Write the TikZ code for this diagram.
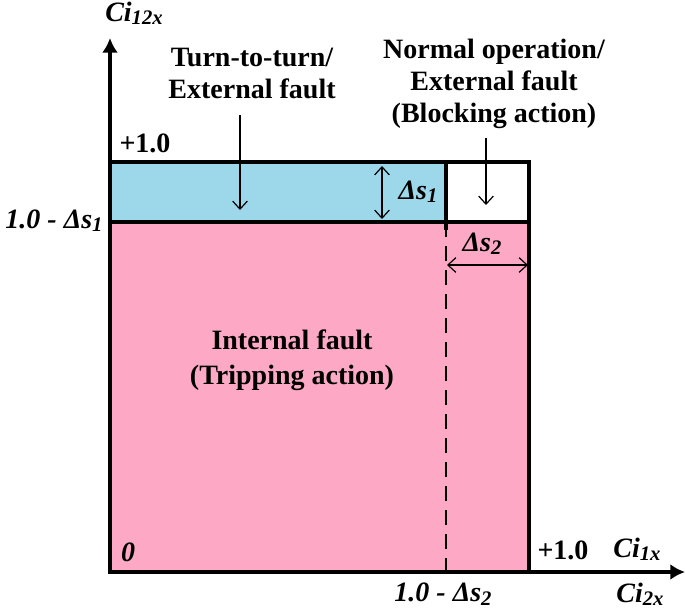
\documentclass[tikz,border=0pt]{standalone}
\usepackage{fontspec}
\setmainfont{Liberation Serif}
\usetikzlibrary{arrows.meta}
\definecolor{zoneblue}{HTML}{9DD8EA}
\definecolor{zonepink}{HTML}{FDA9C5}
\newcommand\lowsub[1]{\raisebox{-0.12em}{\fontsize{15.5}{15.5}\selectfont #1}}
\begin{document}
\begin{tikzpicture}[x=0.75pt,y=-0.75pt,
  lab/.style={font=\fontsize{21}{24}\selectfont\bfseries, align=center, inner sep=0pt},
  ilab/.style={font=\fontsize{21}{24}\selectfont\bfseries\itshape, inner sep=0pt},
  frame/.style={line width=3pt},
  axis/.style={line width=3pt, {Latex[length=11pt,width=12pt]}-{Latex[length=11pt,width=12pt]}},
  pointer/.style={line width=0.9pt, -{Straight Barb[length=6pt,width=11pt]}},
  dimline/.style={line width=0.9pt, {Straight Barb[length=6pt,width=11pt]}-{Straight Barb[length=6pt,width=11pt]}},
  guide/.style={line width=1.2pt, dash pattern=on 11pt off 7pt}
]
\useasboundingbox (0,0) rectangle (685,608);
% key points
\coordinate (O) at (110,572);
\coordinate (TL) at (110,162);
\coordinate (TR) at (529,162);
\coordinate (BR) at (529,572);
\coordinate (ML) at (110,222);
\coordinate (MR) at (529,222);
\coordinate (DT) at (446,162);
\coordinate (DM) at (446,222);
\coordinate (DS) at (446,230);
\coordinate (DB) at (446,578);
\coordinate (Ytip) at (110,38);
\coordinate (Xtip) at (685,572);
% regions
\fill[zonepink] (ML) rectangle (BR);
\fill[zoneblue] (TL) rectangle (DM);
\fill[white] (DT) rectangle (MR);
% dashed guide
\draw[guide] (DM) -- (DB);
% frame
\draw[frame] (TL) -- (TR) -- (BR);
\draw[frame] (ML) -- (MR);
\draw[frame] (DT) -- (DS);
% axes
\draw[axis] (Ytip) -- (O) -- (Xtip);
% texts
\node[ilab] (cy) at (134,13) {Ci\lowsub{12x}};
\node[lab] (ttt) at (252,73) {Turn-to-turn/\\External fault};
\node[lab] (nop) at (494,84) {Normal operation/\\External fault\\(Blocking action)};
\node[lab] (intf) at (292,360) {Internal fault\\[2pt](Tripping action)};
\node[lab] (p1y) at (145,143) {+1.0};
\node[ilab] (s1y) at (54,221) {1.0 - Δs\lowsub{1}};
\node[ilab] (zero) at (128,552) {0};
\node[lab] (p1x) at (563,550) {+1.0};
\node[ilab] (c1x) at (637,549) {Ci\lowsub{1x}};
\node[ilab] (c2x) at (640,594) {Ci\lowsub{2x}};
\node[ilab] (s2x) at (443,594) {1.0 - Δs\lowsub{2}};
\node[ilab] (ds1) at (418,192) {Δs\lowsub{1}};
\node[ilab] (ds2) at (482,244) {Δs\lowsub{2}};
% pointer arrows
\coordinate (ta) at (240,115);
\coordinate (tb) at (240,210);
\coordinate (na) at (486,138);
\coordinate (nb) at (486,205);
\draw[pointer] (ta) -- (tb);
\draw[pointer] (na) -- (nb);
% dimension arrows
\coordinate (d1a) at (382,166);
\coordinate (d1b) at (382,219);
\coordinate (d2a) at (447,265);
\coordinate (d2b) at (528,265);
\draw[dimline] (d1a) -- (d1b);
\draw[dimline] (d2a) -- (d2b);
\end{tikzpicture}
\end{document}
